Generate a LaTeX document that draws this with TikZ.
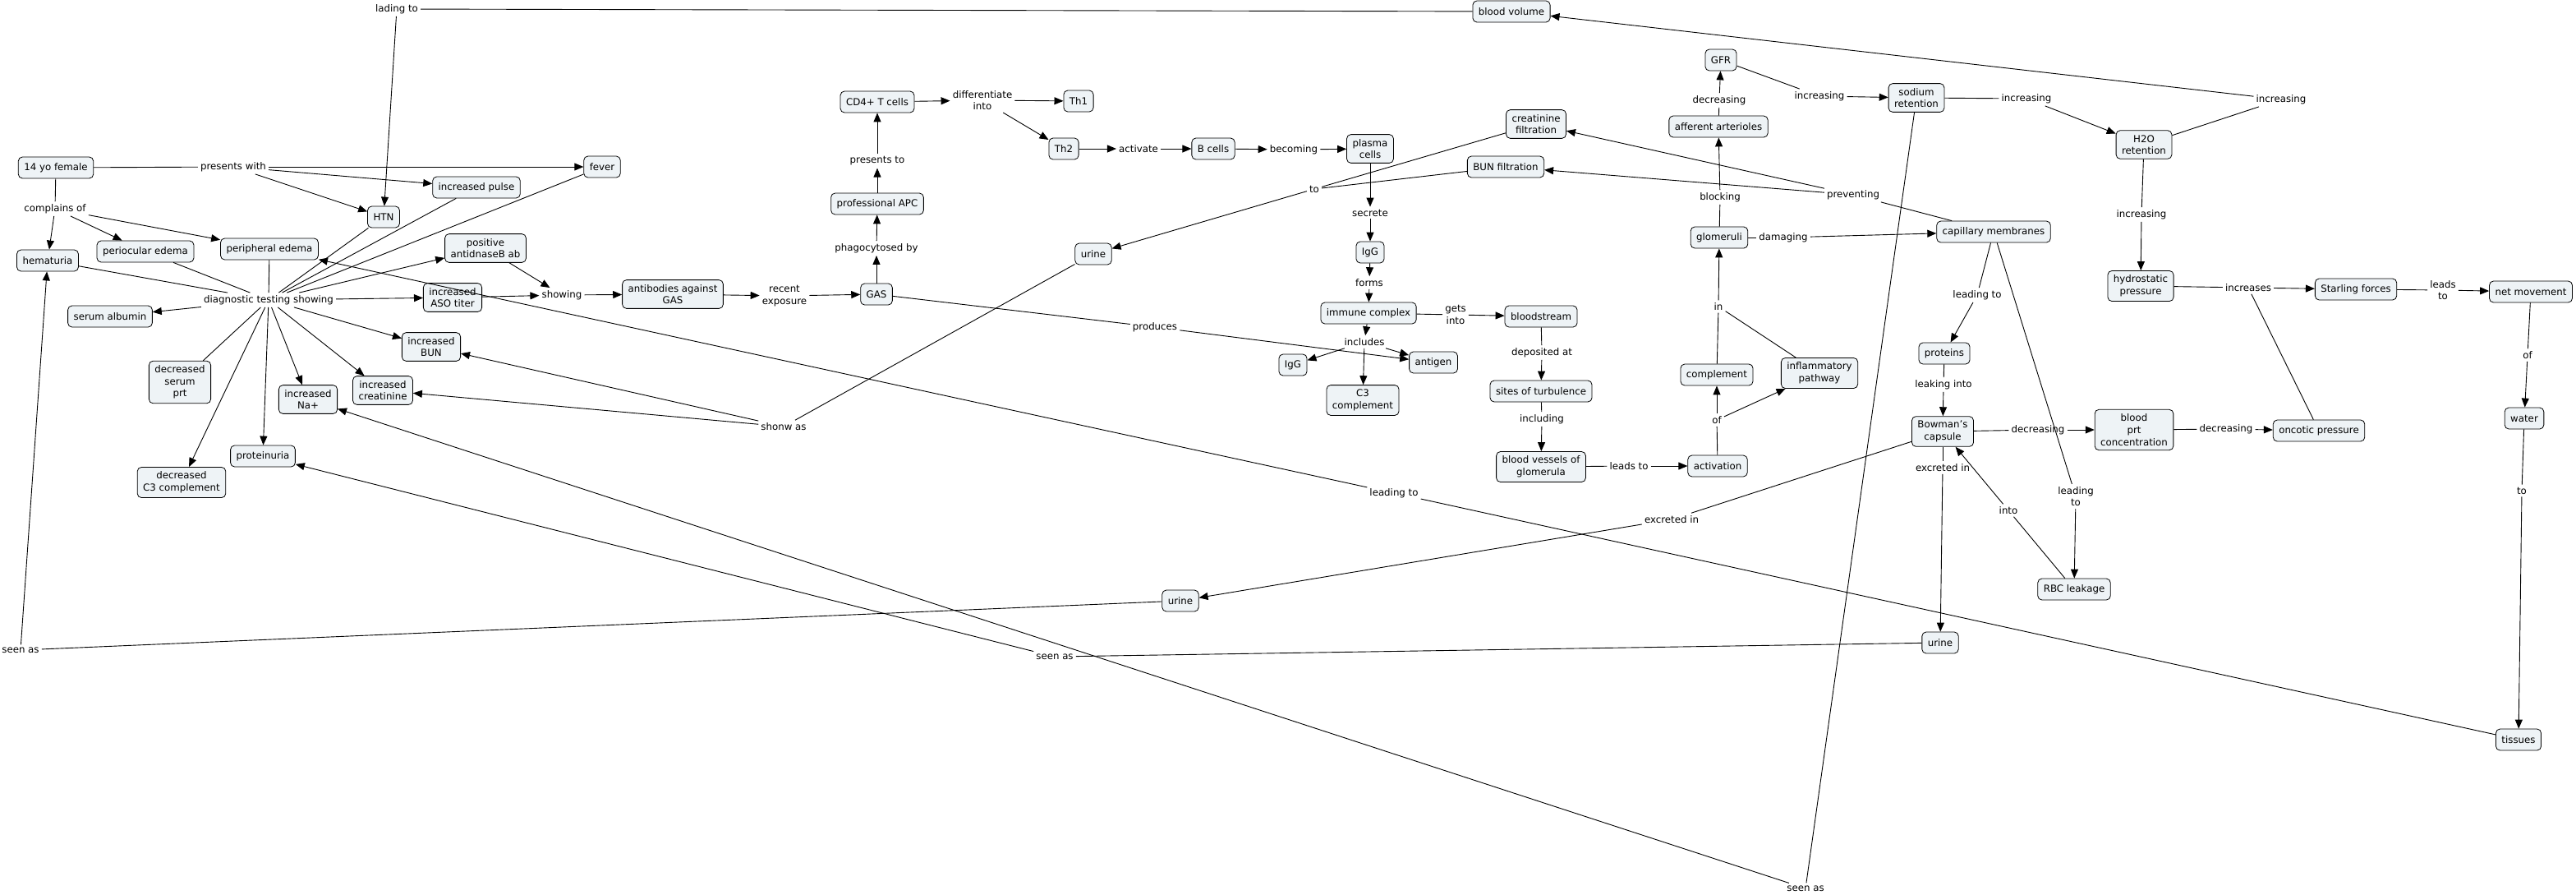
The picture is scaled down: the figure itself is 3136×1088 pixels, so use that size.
\documentclass[tikz,border=0pt]{standalone}
\usepackage{fontspec}
\setmainfont{DejaVu Sans}
\usetikzlibrary{arrows.meta}
\definecolor{nodebg}{RGB}{238,243,246}
\newcommand\cmfont{\fontsize{11.8}{14.6}\selectfont}
\begin{document}
\begin{tikzpicture}[x=1pt,y=-1pt,
  concept/.style={draw, rounded corners=5pt, fill=nodebg, align=center, inner xsep=7pt, inner ysep=5.5pt, minimum height=26pt, font=\cmfont, line width=0.8pt},
  lbl/.style={align=center, inner sep=3pt, font=\cmfont},
  ln/.style={line width=0.9pt},
  arr/.style={line width=0.9pt, -{Triangle[length=11pt,width=9pt]}}]
\fill[white] (0,0) rectangle (3136,1088);
\useasboundingbox (0,0) rectangle (3136,1088);
% concepts
\node[concept] (c14) at (68,204) {14 yo female};
\node[concept] (fever) at (733,203) {fever};
\node[concept] (pulse) at (580,228) {increased pulse};
\node[concept] (htn) at (467,264) {HTN};
\node[concept] (hema) at (58,317) {hematuria};
\node[concept] (perioc) at (177,306) {periocular edema};
\node[concept] (periph) at (328,303) {peripheral edema};
\node[concept] (antid) at (591,302) {positive\\antidnaseB ab};
\node[concept] (aso) at (551,362) {increased\\ASO titer};
\node[concept] (salb) at (134,385) {serum albumin};
\node[concept] (bun) at (525,422) {increased\\BUN};
\node[concept] (dsp) at (219,465) {decreased\\serum\\prt};
\node[concept] (na) at (375,486) {increased\\Na+};
\node[concept] (creat) at (466,475) {increased\\creatinine};
\node[concept] (prot) at (320,555) {proteinuria};
\node[concept] (dc3) at (221,587) {decreased\\C3 complement};
\node[concept] (abgas) at (819,358) {antibodies against\\GAS};
\node[concept] (gas) at (1067,358) {GAS};
\node[concept] (apc) at (1068,248) {professional APC};
\node[concept] (cd4) at (1068,124) {CD4+ T cells};
\node[concept] (th1) at (1313,123) {Th1};
\node[concept] (th2) at (1295,181) {Th2};
\node[concept] (bcells) at (1477,181) {B cells};
\node[concept] (plasma) at (1668,181) {plasma\\cells};
\node[concept] (igga) at (1668,307) {IgG};
\node[concept] (imm) at (1666,381) {immune complex};
\node[concept] (iggb) at (1574,444) {IgG};
\node[concept] (antigen) at (1745,441) {antigen};
\node[concept] (cthree) at (1659,487) {C3\\complement};
\node[concept] (blood) at (1876,385) {bloodstream};
\node[concept] (sites) at (1876,476) {sites of turbulence};
\node[concept] (vessels) at (1876,568) {blood vessels of\\glomerula};
\node[concept] (activ) at (2091,567) {activation};
\node[concept] (compl) at (2090,456) {complement};
\node[concept] (inflam) at (2215,454) {inflammatory\\pathway};
\node[concept] (glom) at (2093,289) {glomeruli};
\node[concept] (aff) at (2092,154) {afferent arterioles};
\node[concept] (gfr) at (2095,73) {GFR};
\node[concept] (sodium) at (2333,119) {sodium\\retention};
\node[concept] (bvol) at (1840,14) {blood volume};
\node[concept] (htwo) at (2610,176) {H2O\\retention};
\node[concept] (hydro) at (2606,348) {hydrostatic\\pressure};
\node[concept] (starling) at (2868,352) {Starling forces};
\node[concept] (netm) at (3081,355) {net movement};
\node[concept] (water) at (3073,509) {water};
\node[concept] (tissues) at (3066,900) {tissues};
\node[concept] (capm) at (2427,282) {capillary membranes};
\node[concept] (creatf) at (1870,151) {creatinine\\filtration};
\node[concept] (bunf) at (1833,203) {BUN filtration};
\node[concept] (urinea) at (1331,309) {urine};
\node[concept] (proteins) at (2367,430) {proteins};
\node[concept] (bowman) at (2365,525) {Bowman's\\capsule};
\node[concept] (rbc) at (2525,717) {RBC leakage};
\node[concept] (bprt) at (2598,523) {blood\\prt\\concentration};
\node[concept] (onc) at (2823,524) {oncotic pressure};
\node[concept] (urineb) at (1437,731) {urine};
\node[concept] (urinec) at (2362,782) {urine};
% linking phrases
\node[lbl] (llading) at (483,11) {lading to};
\node[lbl] (lpres) at (284,203) {presents with};
\node[lbl] (lcompl) at (67,254) {complains of};
\node[lbl] (ldiag) at (327,365) {diagnostic testing showing};
\node[lbl] (lshowing) at (684,359) {showing};
\node[lbl] (lrecent) at (955,360) {recent\\exposure};
\node[lbl] (lphago) at (1067,302) {phagocytosed by};
\node[lbl] (lpresto) at (1068,196) {presents to};
\node[lbl] (ldiff) at (1196,122) {differentiate\\into};
\node[lbl] (lactivate) at (1386,181) {activate};
\node[lbl] (lbecoming) at (1575,182) {becoming};
\node[lbl] (lsecrete) at (1668,259) {secrete};
\node[lbl] (lforms) at (1667,344) {forms};
\node[lbl] (lincludes) at (1661,416) {includes};
\node[lbl] (lgetsinto) at (1772,383) {gets\\into};
\node[lbl] (ldeposited) at (1877,429) {deposited at};
\node[lbl] (lincluding) at (1877,510) {including};
\node[lbl] (lleadsa) at (1983,567) {leads to};
\node[lbl] (lofa) at (2090,511) {of};
\node[lbl] (lin) at (2092,373) {in};
\node[lbl] (lblocking) at (2094,240) {blocking};
\node[lbl] (ldecra) at (2093,122) {decreasing};
\node[lbl] (lincra) at (2215,117) {increasing};
\node[lbl] (lincrb) at (2467,120) {increasing};
\node[lbl] (lincrc) at (2777,121) {increasing};
\node[lbl] (lincrd) at (2607,261) {increasing};
\node[lbl] (lincreases) at (2737,350) {increases};
\node[lbl] (lleadsb) at (2974,353) {leads\\to};
\node[lbl] (lofb) at (3077,432) {of};
\node[lbl] (ltob) at (3070,597) {to};
\node[lbl] (ldamaging) at (2171,289) {damaging};
\node[lbl] (lpreventing) at (2256,237) {preventing};
\node[lbl] (ltoa) at (1600,230) {to};
\node[lbl] (lproduces) at (1406,398) {produces};
\node[lbl] (lshonw) at (954,519) {shonw as};
\node[lbl] (lleadinga) at (2407,359) {leading to};
\node[lbl] (lleaking) at (2366,468) {leaking into};
\node[lbl] (lleadingb) at (2527,604) {leading\\to};
\node[lbl] (linto) at (2445,621) {into};
\node[lbl] (ldecrb) at (2481,523) {decreasing};
\node[lbl] (ldecrc) at (2710,522) {decreasing};
\node[lbl] (lexca) at (2365,569) {excreted in};
\node[lbl] (lexcb) at (2035,632) {excreted in};
\node[lbl] (lseena) at (25,791) {seen as};
\node[lbl] (lseenb) at (1284,799) {seen as};
\node[lbl] (lseenc) at (2198,1081) {seen as};
\node[lbl] (lleadingc) at (1697,600) {leading to};
% connectors
\draw[ln] (c14) -- (lpres);
\draw[arr] (lpres) -- (fever);
\draw[arr] (lpres) -- (pulse);
\draw[arr] (lpres) -- (htn);
\draw[ln] (c14) -- (lcompl);
\draw[arr] (lcompl) -- (hema);
\draw[arr] (lcompl) -- (perioc);
\draw[arr] (lcompl) -- (periph);
\foreach \s in {hema,perioc,periph,htn,pulse,fever,dsp} \draw[ln] (\s) -- (ldiag);
\foreach \t in {salb,antid,aso,bun,creat,na,prot,dc3} \draw[arr] (ldiag) -- (\t);
\draw[ln] (bvol) -- (llading);
\draw[arr] (llading) -- (htn);
\draw[arr] (antid) -- (lshowing);
\draw[arr] (aso) -- (lshowing);
\draw[arr] (lshowing) -- (abgas);
\draw[arr] (abgas) -- (lrecent);
\draw[arr] (lrecent) -- (gas);
\draw[arr] (gas) -- (lphago);
\draw[arr] (lphago) -- (apc);
\draw[arr] (apc) -- (lpresto);
\draw[arr] (lpresto) -- (cd4);
\draw[arr] (cd4) -- (ldiff);
\draw[arr] (ldiff) -- (th1);
\draw[arr] (ldiff) -- (th2);
\draw[arr] (th2) -- (lactivate);
\draw[arr] (lactivate) -- (bcells);
\draw[arr] (bcells) -- (lbecoming);
\draw[arr] (lbecoming) -- (plasma);
\draw[arr] (plasma) -- (lsecrete);
\draw[arr] (lsecrete) -- (igga);
\draw[arr] (igga) -- (lforms);
\draw[arr] (lforms) -- (imm);
\draw[arr] (imm) -- (lincludes);
\draw[arr] (lincludes) -- (iggb);
\draw[arr] (lincludes) -- (cthree);
\draw[arr] (lincludes) -- (antigen);
\draw[ln] (imm) -- (lgetsinto);
\draw[arr] (lgetsinto) -- (blood);
\draw[ln] (blood) -- (ldeposited);
\draw[arr] (ldeposited) -- (sites);
\draw[ln] (sites) -- (lincluding);
\draw[arr] (lincluding) -- (vessels);
\draw[ln] (vessels) -- (lleadsa);
\draw[arr] (lleadsa) -- (activ);
\draw[ln] (activ) -- (lofa);
\draw[arr] (lofa) -- (compl);
\draw[arr] (lofa) -- (inflam);
\draw[ln] (compl) -- (lin);
\draw[ln] (inflam) -- (lin);
\draw[arr] (lin) -- (glom);
\draw[ln] (glom) -- (lblocking);
\draw[arr] (lblocking) -- (aff);
\draw[ln] (aff) -- (ldecra);
\draw[arr] (ldecra) -- (gfr);
\draw[ln] (gfr) -- (lincra);
\draw[arr] (lincra) -- (sodium);
\draw[ln] (sodium) -- (lincrb);
\draw[arr] (lincrb) -- (htwo);
\draw[ln] (htwo) -- (lincrc);
\draw[arr] (lincrc) -- (bvol);
\draw[ln] (htwo) -- (lincrd);
\draw[arr] (lincrd) -- (hydro);
\draw[ln] (hydro) -- (lincreases);
\draw[ln] (onc) -- (lincreases);
\draw[arr] (lincreases) -- (starling);
\draw[ln] (starling) -- (lleadsb);
\draw[arr] (lleadsb) -- (netm);
\draw[ln] (netm) -- (lofb);
\draw[arr] (lofb) -- (water);
\draw[ln] (water) -- (ltob);
\draw[arr] (ltob) -- (tissues);
\draw[ln] (tissues) -- (lleadingc);
\draw[arr] (lleadingc) -- (periph);
\draw[ln] (glom) -- (ldamaging);
\draw[arr] (ldamaging) -- (capm);
\draw[ln] (capm) -- (lpreventing);
\draw[arr] (lpreventing) -- (creatf);
\draw[arr] (lpreventing) -- (bunf);
\draw[ln] (creatf) -- (ltoa);
\draw[ln] (bunf) -- (ltoa);
\draw[arr] (ltoa) -- (urinea);
\draw[ln] (urinea) -- (lshonw);
\draw[arr] (lshonw) -- (bun);
\draw[arr] (lshonw) -- (creat);
\draw[ln] (gas) -- (lproduces);
\draw[arr] (lproduces) -- (antigen);
\draw[ln] (capm) -- (lleadinga);
\draw[arr] (lleadinga) -- (proteins);
\draw[ln] (proteins) -- (lleaking);
\draw[arr] (lleaking) -- (bowman);
\draw[ln] (capm) -- (lleadingb);
\draw[arr] (lleadingb) -- (rbc);
\draw[ln] (rbc) -- (linto);
\draw[arr] (linto) -- (bowman);
\draw[ln] (bowman) -- (ldecrb);
\draw[arr] (ldecrb) -- (bprt);
\draw[ln] (bprt) -- (ldecrc);
\draw[arr] (ldecrc) -- (onc);
\draw[ln] (bowman) -- (lexca);
\draw[arr] (lexca) -- (urinec);
\draw[ln] (bowman) -- (lexcb);
\draw[arr] (lexcb) -- (urineb);
\draw[ln] (urineb) -- (lseena);
\draw[arr] (lseena) -- (hema);
\draw[ln] (urinec) -- (lseenb);
\draw[arr] (lseenb) -- (prot);
\draw[ln] (sodium) -- (lseenc);
\draw[arr] (lseenc) -- (na);
\end{tikzpicture}
\end{document}
